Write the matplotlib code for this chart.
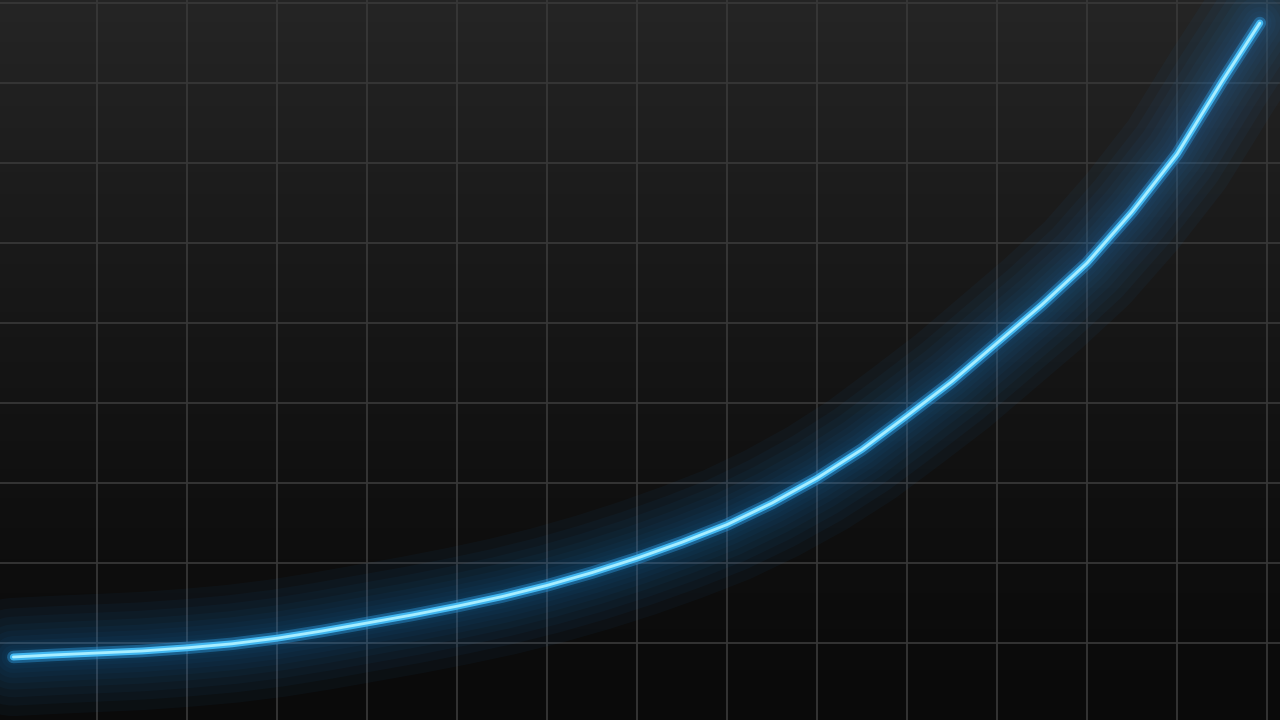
import matplotlib.pyplot as plt
import numpy as np

# curve (grid units: 1 cell = 1)
curve_x = [0.07, 0.5, 1, 1.5, 2, 2.5, 3, 3.5, 4, 4.5, 5, 5.5, 6, 6.5, 7, 7.5,
           8, 8.5, 9, 9.5, 10, 10.5, 11, 11.5, 12, 12.5, 13, 13.5, 13.92]
curve_y = [-0.175, -0.15, -0.125, -0.1, -0.06, -0.01, 0.06, 0.15, 0.25, 0.35,
           0.46, 0.58, 0.72, 0.88, 1.06, 1.26, 1.48, 1.75, 2.06, 2.42, 2.84,
           3.27, 3.75, 4.23, 4.75, 5.39, 6.11, 7.02, 7.75]

grid_x = list(range(1, 15))
grid_y = list(range(0, 9))

fig = plt.figure(figsize=(12.8, 7.2), dpi=100)
ax = fig.add_axes([0, 0, 1, 1])
ax.set_xlim(-0.078, 14.144)
ax.set_ylim(-0.9625, 8.0375)
ax.axis('off')

# dark vertical gradient background
t = np.linspace(0, 1, 256)
shade = (0.04 + 0.105 * (1 - t) ** 1.3).reshape(-1, 1)
bg = np.dstack([shade, shade, shade])
ax.imshow(bg, extent=[-0.078, 14.144, -0.9625, 8.0375], aspect='auto', zorder=0)

for gx in grid_x:
    ax.axvline(gx, color='#373737', lw=1.3, zorder=1)
for gy in grid_y:
    ax.axhline(gy, color='#373737', lw=1.3, zorder=1)

# glow: wide faint layers down to the bright core
for lw in [85, 70, 58, 47, 38, 30, 23, 17, 12]:
    ax.plot(curve_x, curve_y, color='#2080cc', lw=lw, alpha=0.05,
            solid_capstyle='round', zorder=2)
ax.plot(curve_x, curve_y, color='#2fa2ea', lw=9, alpha=0.4, solid_capstyle='round', zorder=3)
ax.plot(curve_x, curve_y, color='#45bdf6', lw=5, alpha=0.95, solid_capstyle='round', zorder=3)
ax.plot(curve_x, curve_y, color='#a8eeff', lw=2, solid_capstyle='round', zorder=4)

plt.savefig('out.png', dpi=100)
